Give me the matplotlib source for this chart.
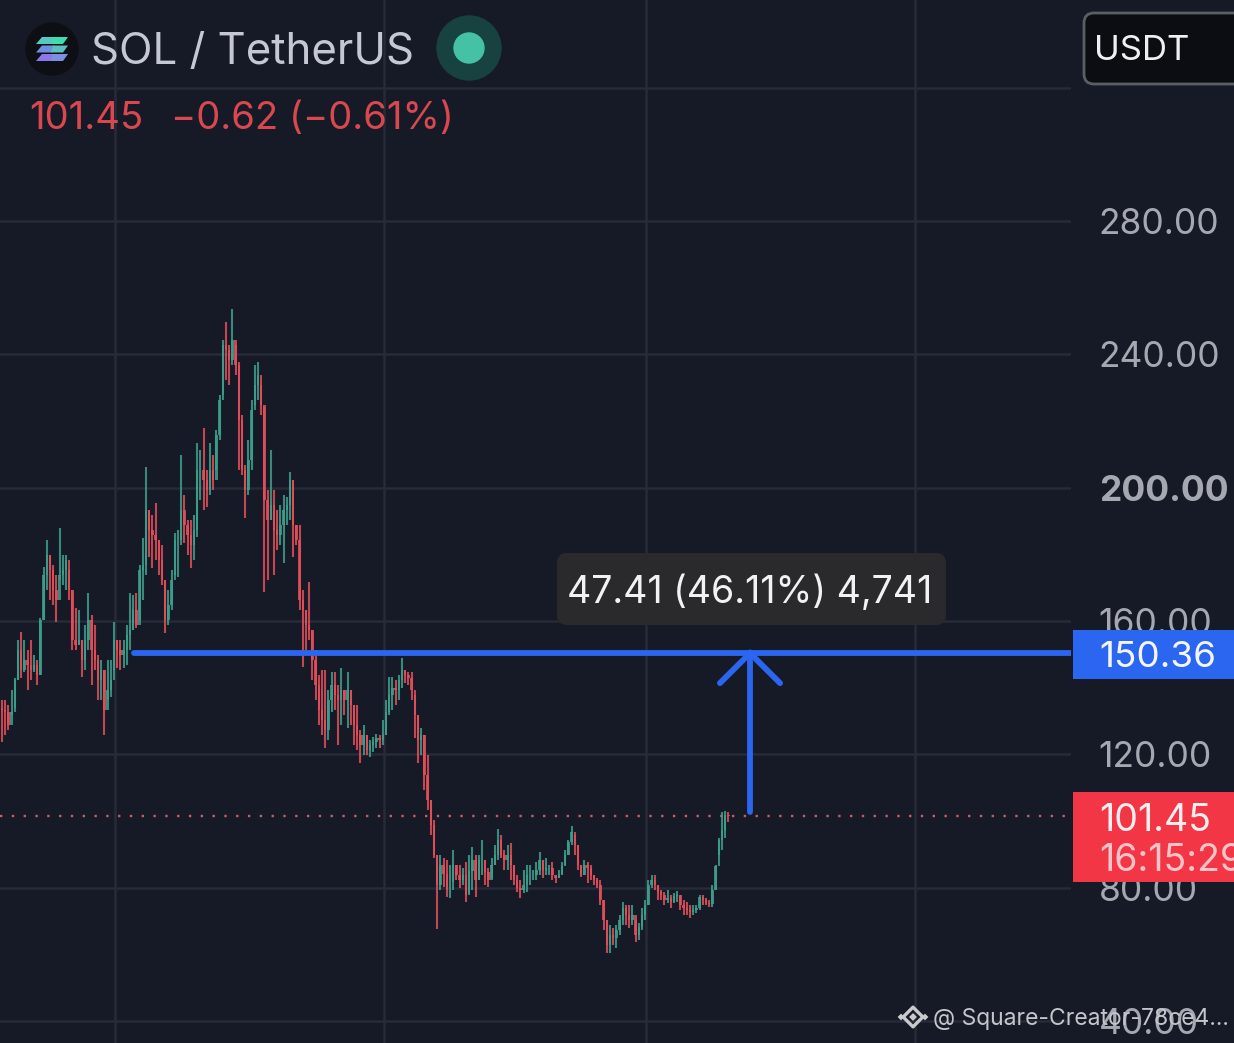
import matplotlib
matplotlib.use("Agg")
import matplotlib.pyplot as plt
from matplotlib.patches import Circle, FancyBboxPatch, Polygon, Rectangle

plt.rcParams['font.family'] = ['Inter', 'DejaVu Sans']

# daily candles (open = previous close)
highs = [136.3,136.3,134.8,139.3,142.9,154.3,156.7,154.3,151.3,154.3,149.8,148.3,160.9,176.2,184.3,179.8,176.8,173.8,187.9,179.8,
         179.8,175.3,169.3,163.9,163.3,154.3,158.8,168.4,161.8,158.8,149.8,148.3,145.3,148.3,148.3,159.7,154.3,154.3,154.3,158.8,
         168.4,167.8,168.4,176.8,184.9,206.2,193.3,191.8,195.4,184.3,182.8,172.3,169.3,175.3,186.4,187.3,209.8,197.8,190.3,190.3,
         191.8,213.4,211.3,217.9,205.3,213.4,209.8,217.3,227.8,244.3,249.7,242.8,253.6,242.8,237.7,221.8,206.8,214.3,226.3,236.8,
         237.7,230.8,224.2,199.3,211.3,199.3,193.3,194.8,197.8,197.2,204.7,202.3,188.8,188.8,169.3,163.3,171.7,157.3,151.3,143.8,
         145.3,145.3,139.3,144.7,144.7,140.8,145.9,139.3,144.7,139.3,134.8,134.8,127.3,128.8,125.8,124.3,125.2,126.1,125.8,130.3,136.3,143.2,
         143.2,142.3,143.8,148.9,145.3,144.7,144.7,137.8,131.8,127.9,125.8,119.8,106.3,100.3,89.8,89.8,88.9,88.3,86.8,
         91.3,86.8,86.8,85.9,87.7,89.8,92.2,89.8,89.8,94.3,88.3,85.9,88.9,92.8,97.6,95.8,91.3,92.8,93.4,86.8,83.8,
         82.3,85.3,86.8,86.8,85.3,87.7,90.7,88.3,88.9,86.8,87.7,83.8,85.3,87.7,91.3,94.3,98.5,95.8,92.8,86.8,
         88.3,87.7,86.8,83.8,82.9,82.3,76.3,70.3,68.8,67.9,68.8,71.8,75.7,74.8,74.8,74.8,70.3,69.4,73.9,76.3,82.3,
         83.8,83.8,80.8,79.3,78.7,79.3,77.8,78.4,79.0,77.8,76.3,75.7,74.8,74.8,74.8,77.8,77.8,76.9,76.3,
         80.8,86.8,94.9,102.7,103.0,102.7]
lows = [123.7,125.8,127.3,131.8,133.9,142.3,142.9,144.7,139.3,142.3,144.7,140.8,143.8,160.3,169.3,166.3,164.8,159.7,172.3,170.8,
        169.3,166.3,151.3,151.3,152.8,143.2,145.3,151.3,140.8,145.3,136.3,136.3,125.8,136.3,137.2,145.3,145.9,145.3,145.9,146.8,
        151.3,157.3,157.9,160.3,166.3,173.8,179.2,175.9,178.3,173.8,170.8,156.4,158.8,163.3,173.8,173.2,182.8,183.4,179.8,175.9,
        178.3,185.2,196.3,193.3,194.2,197.8,199.3,205.3,214.3,227.8,232.3,230.8,236.8,233.8,205.3,203.8,190.9,197.8,205.3,224.8,
        226.3,221.8,168.7,172.3,190.3,173.8,181.3,182.8,177.4,188.8,190.3,179.2,182.8,163.3,146.2,151.3,154.3,142.3,136.3,128.8,
        125.8,121.9,124.3,132.7,133.3,122.8,128.8,131.8,127.9,128.8,122.8,121.3,117.4,119.8,119.8,119.2,120.8,121.9,121.9,122.8,125.8,131.8,
        133.3,134.8,136.3,139.9,141.4,140.8,136.3,124.9,117.4,119.8,109.3,103.3,95.8,88.9,67.6,79.3,80.2,77.2,76.9,
        81.7,82.3,79.9,80.8,75.7,78.4,79.3,77.2,82.3,83.8,80.8,80.2,82.9,86.8,88.3,88.9,85.3,85.3,82.3,80.8,78.7,
        76.9,78.4,78.7,80.8,82.3,82.3,83.8,82.9,83.8,83.8,82.3,81.4,82.9,83.8,86.8,89.8,92.8,89.8,85.3,83.2,
        83.8,81.4,82.3,80.8,79.9,74.8,67.3,60.4,60.4,62.8,61.9,65.8,68.8,68.8,67.9,68.8,63.7,64.3,67.3,70.3,74.8,
        79.9,79.3,76.3,76.3,74.8,75.4,73.9,75.4,75.7,73.3,71.8,71.8,70.9,71.8,72.4,73.3,74.8,74.8,74.2,
        74.2,79.3,89.8,91.3,94.9,99.7]
closes = [133.3,132.7,128.8,132.7,142.3,151.3,145.3,148.3,146.8,145.3,146.8,143.8,160.3,173.8,179.8,175.3,169.3,166.3,173.8,175.3,
          178.3,169.3,154.3,152.8,154.3,148.3,154.3,160.3,151.3,148.3,142.3,145.3,133.3,139.3,142.3,154.3,151.3,149.8,151.3,155.8,
          157.3,163.3,158.8,175.3,176.8,193.3,187.3,185.8,184.3,178.3,172.3,160.3,164.8,172.3,184.3,184.3,193.3,188.8,185.8,182.8,
          187.3,205.3,205.3,202.3,199.3,205.3,202.3,215.8,226.3,242.8,241.3,238.3,244.3,236.8,220.3,205.3,199.3,208.3,223.3,230.8,
          233.8,224.8,196.3,190.3,194.8,187.3,185.8,188.8,193.3,194.8,202.3,188.8,184.3,166.3,163.3,158.8,157.3,148.3,140.8,133.3,
          130.3,127.3,136.3,140.8,137.8,136.3,139.3,136.3,139.3,134.8,128.8,125.8,122.8,125.8,121.3,122.8,123.6,124.9,124.3,125.8,132.7,137.8,
          139.9,139.3,142.3,145.3,143.8,142.9,139.3,131.8,124.3,125.8,113.8,106.3,98.8,89.8,80.8,86.8,84.1,79.3,79.3,
          86.8,83.8,82.3,83.8,77.8,85.0,88.3,82.3,88.3,88.3,84.7,82.3,86.8,89.8,94.3,89.8,88.3,89.8,86.8,82.3,79.9,
          79.3,80.8,83.8,83.8,83.8,85.3,88.3,85.3,85.9,85.9,83.8,82.9,84.1,86.5,89.8,93.7,96.7,92.8,86.8,83.8,
          86.8,85.9,83.8,82.3,80.8,76.3,70.3,62.8,65.8,64.9,67.3,70.3,73.9,71.8,70.3,71.8,65.8,68.2,71.8,74.8,80.8,
          82.3,80.8,78.7,77.8,76.3,76.9,75.7,77.5,77.8,74.8,73.9,73.3,72.7,73.3,73.9,77.2,76.3,75.4,75.1,
          79.3,86.5,94.3,97.3,101.8,101.45]
first_open = 134.0

price_ticks = [320, 280, 240, 200, 160, 120, 80, 40]
price_labels = ['', '280.00', '240.00', '200.00', '160.00', '120.00', '80.00', '40.00']
time_ticks = [35.3, 119.4, 201.25, 285.4]

last_price = 101.45
target_price = 150.36
line_start_bar = 41.25
arrow_bar = 233.75
arrow_foot = 102.7
head_bars = 9.4
head_drop = 9.0

bg = '#151a26'
grid = '#272b37'
up = '#3f9f8c'
down = '#e2505a'
blue = '#2b66f0'
label_col = '#a5a8b0'

fig = plt.figure(figsize=(12.34, 10.43), dpi=100, facecolor=bg)
ax = fig.add_axes([0, 0, 1071 / 1234, 1], facecolor=bg)
ax.set_xlim(-0.625, 334.06)
ax.set_ylim(33.4, 346.3)
for s in ax.spines.values():
    s.set_visible(False)

ax.set_xticks(time_ticks, [''] * len(time_ticks))
ax.yaxis.tick_right()
ax.set_yticks(price_ticks, price_labels)
ax.tick_params(axis='both', length=0)
ax.tick_params(axis='y', pad=20, labelsize=25.5, labelcolor=label_col)
ax.grid(True, color=grid, lw=1.8)
ax.set_axisbelow(True)
for t in ax.get_yticklabels():
    if t.get_text() == '200.00':
        t.set_fontweight('bold')

bars = list(range(len(closes)))
opens = [first_open] + closes[:-1]
colors = [up if c >= o else down for o, c in zip(opens, closes)]
ax.vlines(bars, lows, highs, colors=colors, lw=1.5, alpha=0.85, zorder=3)
ax.bar(bars, [abs(c - o) for o, c in zip(opens, closes)],
       bottom=[min(o, c) for o, c in zip(opens, closes)],
       width=0.8, color=colors, alpha=0.85, zorder=3)

# last price and the target drawing
ax.axhline(last_price, xmax=0.995, color='#d05a60', lw=1.7, ls=(0, (1, 4)), zorder=2)
ax.plot([line_start_bar, 334.06], [target_price, target_price], color=blue, lw=4.2,
        solid_capstyle='round', zorder=4)
ax.plot([arrow_bar, arrow_bar], [arrow_foot, target_price], color=blue, lw=4.2,
        solid_capstyle='round', zorder=4)
ax.plot([arrow_bar - head_bars, arrow_bar, arrow_bar + head_bars],
        [target_price - head_drop, target_price, target_price - head_drop],
        color=blue, lw=4.2, solid_capstyle='round', solid_joinstyle='miter', zorder=4)

# everything around the chart, in image pixels
over = fig.add_axes([0, 0, 1, 1], facecolor='none', zorder=5)
over.set_xlim(0, 1234)
over.set_ylim(1043, 0)
over.axis('off')

over.add_patch(Circle((52, 49), 26, color='#0d0f15'))
bar_tops = [37, 45.5, 54]
left_cols = ['#55c8c0', '#6f8fe0', '#8a78e8']
right_cols = ['#3fdcae', '#5cc0c0', '#7f8fe0']
for top, lc, rc in zip(bar_tops, left_cols, right_cols):
    over.add_patch(Polygon([(42, top), (54, top), (52, top + 7), (36, top + 7)], color=lc, lw=0))
    over.add_patch(Polygon([(53, top), (68, top), (63, top + 7), (51, top + 7)], color=rc, lw=0))
over.text(91, 48, 'SOL / TetherUS', color='#c5c8d2', fontsize=31.5, va='center_baseline')
over.add_patch(Circle((469, 48), 32, color='#17423f'))
over.add_patch(Circle((469, 48), 15, color='#45c2a6'))
over.text(29, 115, '101.45', color='#d9474f', fontsize=27.5, va='center_baseline')
over.text(171, 115, '−0.62 (−0.61%)', color='#d9474f', fontsize=27.5, va='center_baseline')

over.add_patch(FancyBboxPatch((1084, 13), 170, 71, boxstyle='round,pad=0,rounding_size=10',
                              fc='#0b0d12', ec='#5a5e66', lw=2, clip_on=True))
over.text(1094, 47, 'USDT', color='#f0f0f2', fontsize=25, va='center_baseline')

over.add_patch(FancyBboxPatch((557, 553), 389, 72, boxstyle='round,pad=0,rounding_size=10',
                              fc='#2a2a2d', ec='none'))
over.text(750, 589, '47.41 (46.11%) 4,741', color='#f2f2f2', fontsize=27, ha='center', va='center_baseline')

over.add_patch(Rectangle((1073, 630), 161, 49, color=blue, lw=0))
over.text(1099, 654, '150.36', color='#f4f6ff', fontsize=26.5, va='center_baseline')
over.add_patch(Rectangle((1073, 792), 161, 90, color='#f23645', lw=0))
over.text(1099, 817, '101.45', color='#fbeeee', fontsize=27, va='center_baseline')
over.text(1099, 857, '16:15:29', color='#f8c4c8', fontsize=27, va='center_baseline')

# watermark
over.scatter([913], [1017], marker='D', s=100, facecolor='none', edgecolor='#c8cacd', lw=2.4)
over.scatter([913, 901, 925], [1017, 1017, 1017], marker='D', s=[16, 12, 12], color='#c8cacd', lw=0)
over.text(933, 1016, '@ Square-Creator-78ce4...', color='#c4c6cb', fontsize=16.5, va='center_baseline')

fig.savefig('out.png', dpi=100, facecolor=bg)
